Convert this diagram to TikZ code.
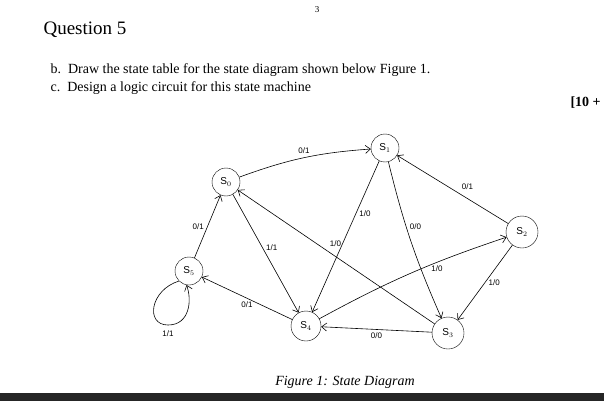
\documentclass[tikz,border=0pt]{standalone}
\usepackage{fontspec}
\setmainfont{Liberation Serif}
\newfontfamily\hand{Liberation Sans}
\usetikzlibrary{arrows.meta}
\begin{document}
\begin{tikzpicture}[x=1pt,y=-1pt,
  st/.style={draw,circle,minimum size=28pt,inner sep=0pt,font=\hand\normalsize},
  tr/.style={draw,-{Straight Barb[length=5pt,width=8pt]},line width=0.6pt},
  lb/.style={font=\hand\footnotesize}]
\useasboundingbox (0,0) rectangle (604,401);
\fill[black!85] (0,393) rectangle (604,401);
\node[font=\small] (pg) at (317,10) {3};
\node[anchor=west,font=\fontsize{19}{20}\selectfont] (q) at (40,30) {Question 5};
\node[anchor=west,font=\fontsize{14}{16}\selectfont] (b) at (47,70) {b.\ \ Draw the state table for the state diagram shown below Figure 1.};
\node[anchor=west,font=\fontsize{14}{16}\selectfont] (c) at (47,88) {c.\ \ Design a logic circuit for this state machine};
\node[anchor=west,font=\fontsize{14}{16}\selectfont\bfseries] (m) at (567,103) {[10 +};
\node[font=\fontsize{14}{16}\selectfont\itshape] (cap) at (345,382) {Figure 1: State Diagram};

\node[st] (s0) at (226,182) {S$_0$};
\node[st] (s1) at (385,148) {S$_1$};
\node[st,minimum size=32pt] (s2) at (522,232) {S$_2$};
\node[st] (s5) at (189,271) {S$_5$};
\node[st,minimum size=30pt] (s4) at (306,326) {S$_4$};
\node[st,minimum size=32pt] (s3) at (448,333) {S$_3$};

\draw[tr] (s0) to[bend left=8] node[lb,above] {0/1} (s1);
\draw[tr] (s1) -- node[lb,pos=0.35,right] {1/0} (s4);
\draw[tr] (s1) to[bend right=5] node[lb,pos=0.4,right] {0/0} (s3);
\draw[tr] (s2) -- node[lb,pos=0.45,above right] {0/1} (s1);
\draw[tr] (s2) -- node[lb,right] {1/0} (s3);
\draw[tr] (s4) to[bend left=5] node[lb,pos=0.65,below] {1/0} (s2);
\draw[tr] (s3) -- node[lb,pos=0.55,above right] {1/0} (s0);
\draw[tr] (s0) -- node[lb,pos=0.45,right] {1/1} (s4);
\draw[tr] (s3) -- node[lb,below] {0/0} (s4);
\draw[tr] (s4) -- node[lb,below] {0/1} (s5);
\draw[tr] (s5) -- node[lb,left] {0/1} (s0);
\draw[tr] (s5.225) .. controls (150,290) and (145,325) .. (168,325) node[lb,below=2pt] {1/1} .. controls (190,325) and (192,300) .. (s5.260);
\end{tikzpicture}
\end{document}
